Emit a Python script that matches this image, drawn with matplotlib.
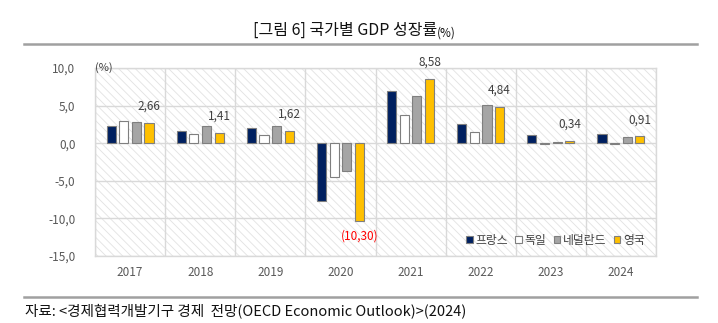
import numpy as np
import matplotlib
matplotlib.use('Agg')
import matplotlib.pyplot as plt
from matplotlib.patches import Rectangle
from matplotlib.ticker import FuncFormatter

plt.rcParams['font.family'] = ['Noto Sans CJK KR', 'DejaVu Sans']
plt.rcParams['hatch.linewidth'] = 0.6

years = ['2017', '2018', '2019', '2020', '2021', '2022', '2023', '2024']
countries = ['프랑스', '독일', '네덜란드', '영국']
france = [2.35, 1.6, 2.05, -7.65, 6.9, 2.6, 1.1, 1.25]
germany = [3.0, 1.25, 1.1, -4.45, 3.7, 1.55, -0.1, -0.1]
netherlands = [2.8, 2.25, 2.25, -3.75, 6.25, 5.05, 0.1, 0.85]
uk = [2.66, 1.41, 1.62, -10.30, 8.58, 4.84, 0.34, 0.91]

colors = ['#002060', '#ffffff', '#a5a5a5', '#ffc000']
series = [france, germany, netherlands, uk]

fig = plt.figure(figsize=(7.18, 3.23), dpi=100)
ax = fig.add_axes([95 / 718, 1 - 256 / 323, 561 / 718, 188 / 323])

# hatched plot background
ax.add_patch(Rectangle((0, 0), 1, 1, transform=ax.transAxes, facecolor='white',
                       edgecolor='#e2e2e2', linewidth=0, hatch='\\\\\\\\', zorder=0))

x = np.arange(len(years))
w = 0.13
step = 0.18
for i, (vals, c) in enumerate(zip(series, colors)):
    ax.bar(x + (i - 1.5) * step, vals, width=w, color=c, edgecolor='#7f7f7f',
           linewidth=0.8, label=countries[i], zorder=3)

# value labels for the UK series
for xi, v in zip(x, uk):
    xb = xi + 1.5 * step
    if v < 0:
        ax.annotate('(' + f'{abs(v):.2f}'.replace('.', ',') + ')', (xb, v),
                    xytext=(0, -11), textcoords='offset points', ha='center',
                    va='center', fontsize=8.5, color='#ff0000')
    else:
        ax.annotate(f'{v:.2f}'.replace('.', ','), (xb, v), xytext=(0, 12),
                    textcoords='offset points', ha='center', va='center',
                    fontsize=8.5, color='#404040')

ax.set_xlim(-0.5, len(years) - 0.5)
ax.set_ylim(-15, 10)
ax.set_yticks(np.arange(-15, 10.1, 5))
ax.yaxis.set_major_formatter(FuncFormatter(lambda v, p: f'{v:.1f}'.replace('.', ',')))
ax.set_xticks(x)
ax.set_xticklabels(years)
ax.set_xticks(np.arange(-0.5, len(years), 1), minor=True)
ax.tick_params(axis='both', which='both', length=0, labelsize=8.5, colors='#595959')
ax.tick_params(axis='y', pad=14)
ax.tick_params(axis='x', pad=7)
ax.grid(True, axis='y', which='major', color='#d9d9d9', linewidth=1, zorder=1)
ax.grid(True, axis='x', which='minor', color='#d9d9d9', linewidth=1, zorder=1)
ax.set_axisbelow(True)
for s in ax.spines.values():
    s.set_color('#d9d9d9')
    s.set_linewidth(1)

ax.text(0, 1, '(%)', transform=ax.transAxes, ha='left', va='center',
        fontsize=8, color='#404040')

leg = ax.legend(loc='lower right', bbox_to_anchor=(0.995, 0.005), ncol=4, frameon=False,
                fontsize=8.5, handlelength=0.55, handleheight=0.55, handletextpad=0.25,
                columnspacing=0.6, borderpad=0.2)
for t in leg.get_texts():
    t.set_color('#404040')

# title with a smaller unit suffix
title = fig.text(437 / 718, 1 - 30 / 323, '[그림 6] 국가별 GDP 성장률', ha='right',
                 va='center', fontsize=11.5, color='#111111')
fig.text(437 / 718, 1 - 33 / 323, '(%)', ha='left', va='center', fontsize=8.5,
         color='#111111')

fig.add_artist(plt.Line2D([24 / 718, 697 / 718], [1 - 44 / 323, 1 - 44 / 323],
                          color='#a0a0a0', linewidth=1.8))
fig.add_artist(plt.Line2D([24 / 718, 697 / 718], [1 - 297 / 323, 1 - 297 / 323],
                          color='#a0a0a0', linewidth=1.8))
fig.text(25 / 718, 1 - 311 / 323, '자료: <경제협력개발기구 경제  전망(OECD Economic Outlook)>(2024)',
         ha='left', va='center', fontsize=10.5, color='#111111')

fig.savefig('out.png', dpi=100)
